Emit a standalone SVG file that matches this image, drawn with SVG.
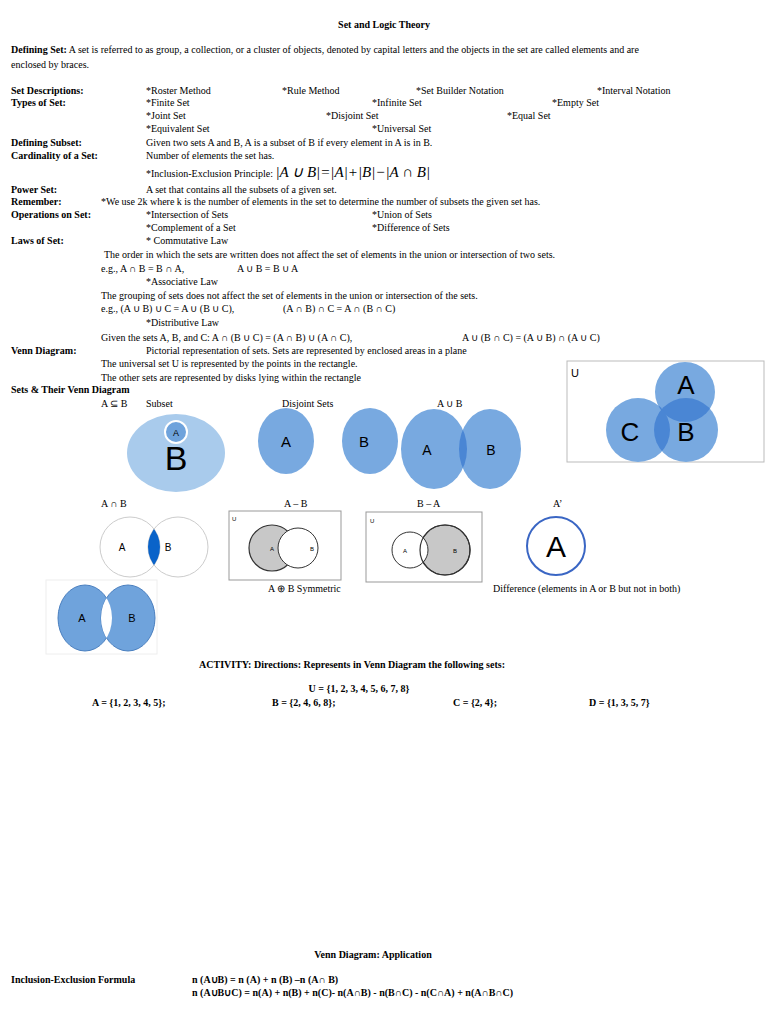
<svg xmlns="http://www.w3.org/2000/svg" width="768" height="1024" viewBox="0 0 768 1024">
<style>
text{font-family:"Liberation Serif",serif;font-size:10px;fill:#000}
.b{font-weight:bold}
.s{font-family:"Liberation Sans",sans-serif}
.blue{fill:#78a9e0}
.grey{fill:#c8c8c8;stroke:#333;stroke-width:1.2}
.wc{fill:#fff;stroke:#333;stroke-width:1}
</style>
<defs>
<clipPath id="cA"><ellipse cx="434" cy="449" rx="33" ry="40"/></clipPath>
<clipPath id="cI"><circle cx="130" cy="547" r="30"/></clipPath>
<clipPath id="cS"><ellipse cx="85" cy="618" rx="27" ry="33"/></clipPath>
<clipPath id="cTA"><circle cx="685" cy="392" r="30"/></clipPath>
<clipPath id="cTC"><circle cx="638" cy="430" r="32"/></clipPath>
</defs>
<rect width="768" height="1024" fill="#fff"/>
<text x="384" y="28" text-anchor="middle" class="b">Set and Logic Theory</text>
<text x="11" y="53"><tspan class="b">Defining Set:</tspan> A set is referred to as group, a collection, or a cluster of objects, denoted by capital letters and the objects in the set are called elements and are</text>
<text x="11" y="68">enclosed by braces.</text>
<g>
<text x="11" y="94" class="b">Set Descriptions:</text><text x="146" y="94">*Roster Method</text><text x="282" y="94">*Rule Method</text><text x="416" y="94">*Set Builder Notation</text><text x="597" y="94">*Interval Notation</text>
<text x="11" y="106" class="b">Types of Set:</text><text x="146" y="106">*Finite Set</text><text x="372" y="106">*Infinite Set</text><text x="552" y="106">*Empty Set</text>
<text x="146" y="119">*Joint Set</text><text x="326" y="119">*Disjoint Set</text><text x="507" y="119">*Equal Set</text>
<text x="146" y="132">*Equivalent Set</text><text x="372" y="132">*Universal Set</text>
<text x="11" y="146" class="b">Defining Subset:</text><text x="146" y="146">Given two sets A and B, A is a subset of B if every element in A is in B.</text>
<text x="11" y="159" class="b">Cardinality of a Set:</text><text x="146" y="159">Number of elements the set has.</text>
<text x="146" y="177">*Inclusion-Exclusion Principle: <tspan style="font-style:italic;font-size:15px">|A ∪ B|=|A|+|B|−|A ∩ B|</tspan></text>
<text x="11" y="193" class="b">Power Set:</text><text x="146" y="193">A set that contains all the subsets of a given set.</text>
<text x="11" y="205" class="b">Remember:</text><text x="101" y="205">*We use 2k where k is the number of elements in the set to determine the number of subsets the given set has.</text>
<text x="11" y="218" class="b">Operations on Set:</text><text x="146" y="218">*Intersection of Sets</text><text x="372" y="218">*Union of Sets</text>
<text x="146" y="231">*Complement of a Set</text><text x="372" y="231">*Difference of Sets</text>
<text x="11" y="244" class="b">Laws of Set:</text><text x="146" y="244">* Commutative Law</text>
<text x="104" y="258">The order in which the sets are written does not affect the set of elements in the union or intersection of two sets.</text>
<text x="101" y="272">e.g., A ∩ B = B ∩ A,</text><text x="237" y="272">A ∪ B = B ∪ A</text>
<text x="146" y="285">*Associative Law</text>
<text x="101" y="299">The grouping of sets does not affect the set of elements in the union or intersection of the sets.</text>
<text x="101" y="312">e.g., (A ∪ B) ∪ C = A ∪ (B ∪ C),</text><text x="283" y="312">(A ∩ B) ∩ C = A ∩ (B ∩ C)</text>
<text x="146" y="326">*Distributive Law</text>
<text x="101" y="341">Given the sets A, B, and C:    A ∩ (B ∪ C) = (A ∩ B) ∪ (A ∩ C),</text><text x="462" y="341">A ∪ (B ∩ C) = (A ∪ B) ∩ (A ∪ C)</text>
<text x="11" y="354" class="b">Venn Diagram:</text><text x="146" y="354">Pictorial representation of sets. Sets are represented by enclosed areas in a plane</text>
<text x="101" y="367">The universal set U is represented by the points in the rectangle.</text>
<text x="101" y="381">The other sets are represented by disks lying within the rectangle</text>
<text x="11" y="393" class="b">Sets &amp; Their Venn Diagram</text>
<text x="101" y="407">A ⊆ B</text><text x="146" y="407">Subset</text><text x="282" y="407">Disjoint Sets</text><text x="437" y="407">A ∪ B</text>
</g>
<g id="triple">
<rect x="567" y="361" width="197" height="101" fill="#fff" stroke="#bbb"/>
<text x="571" y="377" class="s" style="font-size:11px">U</text>
<circle cx="685" cy="392" r="30" class="blue"/>
<circle cx="638" cy="430" r="32" class="blue"/>
<circle cx="686" cy="430" r="32" class="blue"/>
<circle cx="638" cy="430" r="32" fill="#4a86d4" clip-path="url(#cTA)"/>
<circle cx="686" cy="430" r="32" fill="#4a86d4" clip-path="url(#cTA)"/>
<circle cx="686" cy="430" r="32" fill="#4a86d4" clip-path="url(#cTC)"/>
<text x="686" y="394" class="s" text-anchor="middle" style="font-size:26px">A</text>
<text x="630" y="441" class="s" text-anchor="middle" style="font-size:26px">C</text>
<text x="686" y="441" class="s" text-anchor="middle" style="font-size:26px">B</text>
</g>
<g id="subset">
<ellipse cx="176" cy="453" rx="49" ry="39" fill="#a9cbec"/>
<circle cx="176" cy="432" r="11" fill="#6fa3dc" stroke="#fff" stroke-width="2"/>
<text x="176" y="436" class="s" text-anchor="middle" style="font-size:9px">A</text>
<text x="176" y="470" class="s" text-anchor="middle" style="font-size:34px">B</text>
</g>
<g id="disjoint">
<ellipse cx="286" cy="441" rx="28" ry="33" class="blue"/>
<ellipse cx="370" cy="441" rx="28" ry="33" class="blue"/>
<text x="286" y="447" class="s" text-anchor="middle" style="font-size:15px">A</text>
<text x="364" y="447" class="s" text-anchor="middle" style="font-size:15px">B</text>
</g>
<g id="union">
<ellipse cx="434" cy="449" rx="33" ry="40" class="blue"/>
<ellipse cx="490" cy="449" rx="31" ry="40" class="blue"/>
<ellipse cx="490" cy="449" rx="31" ry="40" fill="#4a86d4" clip-path="url(#cA)"/>
<text x="427" y="455" class="s" text-anchor="middle" style="font-size:14px">A</text>
<text x="491" y="455" class="s" text-anchor="middle" style="font-size:14px">B</text>
</g>
<g>
<text x="101" y="507">A ∩ B</text><text x="284" y="507">A – B</text><text x="417" y="507">B – A</text><text x="553" y="507">A’</text>
<text x="268" y="592">A ⊕ B Symmetric</text><text x="493" y="592">Difference (elements in A or B but not in both)</text>
</g>
<g id="intersect">
<circle cx="130" cy="547" r="30" fill="#fff" stroke="#ccc"/>
<circle cx="178" cy="547" r="30" fill="none" stroke="#ccc"/>
<circle cx="178" cy="547" r="30" fill="#0a63c9" clip-path="url(#cI)"/>
<text x="122" y="551" class="s" text-anchor="middle">A</text>
<text x="168" y="551" class="s" text-anchor="middle">B</text>
</g>
<g id="aminusb">
<rect x="229" y="511" width="112" height="69" fill="#fff" stroke="#999"/>
<text x="232" y="521" class="s" style="font-size:6px">U</text>
<circle cx="272" cy="548" r="23" class="grey"/>
<circle cx="298" cy="548" r="20" class="wc"/>
<text x="272" y="551" class="s" text-anchor="middle" style="font-size:6px">A</text>
<text x="312" y="551" class="s" text-anchor="middle" style="font-size:6px">B</text>
</g>
<g id="bminusa">
<rect x="366" y="512" width="116" height="70" fill="#fff" stroke="#999"/>
<text x="370" y="523" class="s" style="font-size:6px">U</text>
<circle cx="445" cy="550" r="25" class="grey"/>
<circle cx="410" cy="550" r="18" class="wc"/>
<circle cx="445" cy="550" r="25" fill="none" stroke="#333" stroke-width="1.2"/>
<text x="405" y="553" class="s" text-anchor="middle" style="font-size:6px">A</text>
<text x="455" y="553" class="s" text-anchor="middle" style="font-size:6px">B</text>
</g>
<g id="acomp">
<circle cx="556" cy="546" r="29" fill="#fff" stroke="#3a66c4" stroke-width="2"/>
<text x="556" y="557" class="s" text-anchor="middle" style="font-size:30px">A</text>
</g>
<g id="symdiff">
<rect x="46" y="580" width="111" height="74" fill="#fff" stroke="#eee"/>
<ellipse cx="85" cy="618" rx="27" ry="33" fill="#6fa3dc" stroke="#4a7fbf"/>
<ellipse cx="128" cy="618" rx="27" ry="33" fill="#6fa3dc" stroke="#4a7fbf"/>
<ellipse cx="128" cy="618" rx="27" ry="33" fill="#fff" clip-path="url(#cS)"/>
<text x="82" y="622" class="s" text-anchor="middle" style="font-size:11px">A</text>
<text x="132" y="622" class="s" text-anchor="middle" style="font-size:11px">B</text>
</g>
<g>
<text x="352" y="668" text-anchor="middle" class="b">ACTIVITY: Directions: Represents in Venn Diagram the following sets:</text>
<text x="359" y="692" text-anchor="middle" class="b">U = {1, 2, 3, 4, 5, 6, 7, 8}</text>
<text x="92" y="706" class="b">A = {1, 2, 3, 4, 5};</text>
<text x="272" y="706" class="b">B = {2, 4, 6, 8};</text>
<text x="453" y="706" class="b">C = {2, 4};</text>
<text x="589" y="706" class="b">D = {1, 3, 5, 7}</text>
<text x="373" y="958" text-anchor="middle" class="b">Venn Diagram: Application</text>
<text x="11" y="983" class="b">Inclusion-Exclusion Formula</text>
<text x="192" y="983" class="b">n (A∪B) = n (A) + n (B) –n (A∩ B)</text>
<text x="192" y="996" class="b">n (A∪B∪C) = n(A) + n(B) + n(C)- n(A∩B) - n(B∩C) - n(C∩A) + n(A∩B∩C)</text>
</g>
</svg>
